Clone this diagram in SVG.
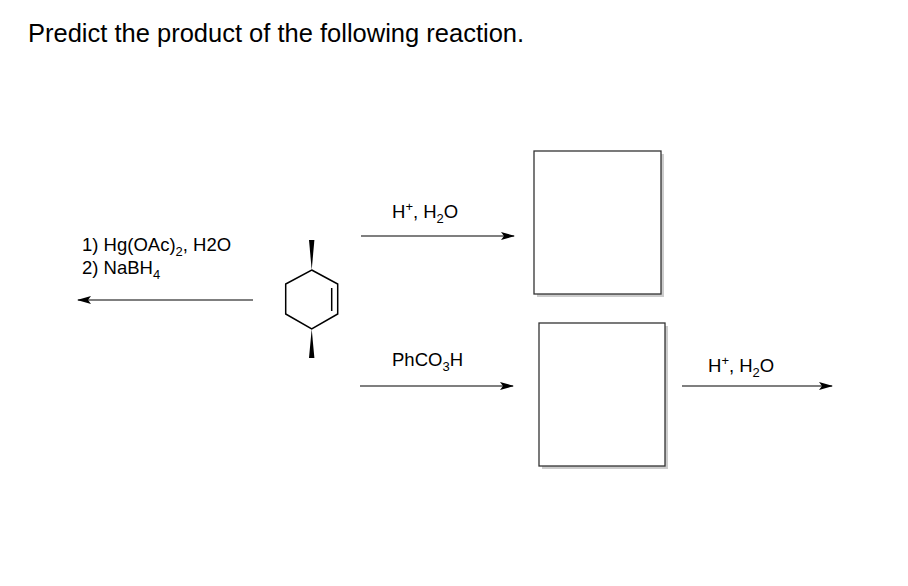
<svg xmlns="http://www.w3.org/2000/svg" width="908" height="586" viewBox="0 0 908 586">
<style>
text{font-family:"Liberation Sans",Arial,sans-serif;fill:#000}
.l{font-size:18.5px}
.b{stroke:#000;stroke-width:1.5;fill:none}
.ar{stroke:#000;stroke-width:1.2;fill:none;marker-end:url(#ah)}
</style>
<defs><marker id="ah" markerWidth="14" markerHeight="8" refX="13" refY="4" orient="auto" markerUnits="userSpaceOnUse"><path d="M0,0 L14,4 L0,8 L3,4 Z" fill="#000"/></marker></defs>
<rect width="908" height="586" fill="#fff"/>
<text x="28" y="42" style="font-size:25.5px">Predict the product of the following reaction.</text>
<g id="molecule">
<path class="b" d="M311.7,270 L337.7,284 L337.7,314 L311.7,329 L285.7,314 L285.7,284 Z"/>
<line class="b" x1="331.7" y1="288" x2="331.7" y2="311"/>
<polygon points="311.7,270 309,240 314.4,240" fill="#000"/>
<polygon points="311.7,329 309,358 314.4,358" fill="#000"/>
</g>
<g id="box1"><rect x="537" y="154" width="127" height="143" fill="#ccc"/><rect x="534" y="151" width="127" height="143" fill="#fff" stroke="#333" stroke-width="1.3"/></g>
<g id="box2"><rect x="542" y="326" width="126" height="143" fill="#ccc"/><rect x="539" y="323" width="126" height="143" fill="#fff" stroke="#333" stroke-width="1.3"/></g>
<g id="labels">
<text class="l" x="392" y="218">H<tspan dy="-7" font-size="13">+</tspan><tspan dy="7">, H</tspan><tspan dy="5" font-size="13">2</tspan><tspan dy="-5">O</tspan></text>
<text class="l" x="82" y="251">1) Hg(OAc)<tspan dy="5" font-size="13">2</tspan><tspan dy="-5">, H2O</tspan></text>
<text class="l" x="82" y="274">2) NaBH<tspan dy="5" font-size="13">4</tspan></text>
<text class="l" x="392" y="366">PhCO<tspan dy="5" font-size="13">3</tspan><tspan dy="-5">H</tspan></text>
<text class="l" x="708" y="372">H<tspan dy="-7" font-size="13">+</tspan><tspan dy="7">, H</tspan><tspan dy="5" font-size="13">2</tspan><tspan dy="-5">O</tspan></text>
</g>
<g id="connectors">
<line class="ar" x1="361" y1="236" x2="514" y2="236"/>
<line class="ar" x1="253" y1="300" x2="78" y2="300"/>
<line class="ar" x1="360" y1="386" x2="513" y2="386"/>
<line class="ar" x1="682" y1="386" x2="832" y2="386"/>
</g>
</svg>
